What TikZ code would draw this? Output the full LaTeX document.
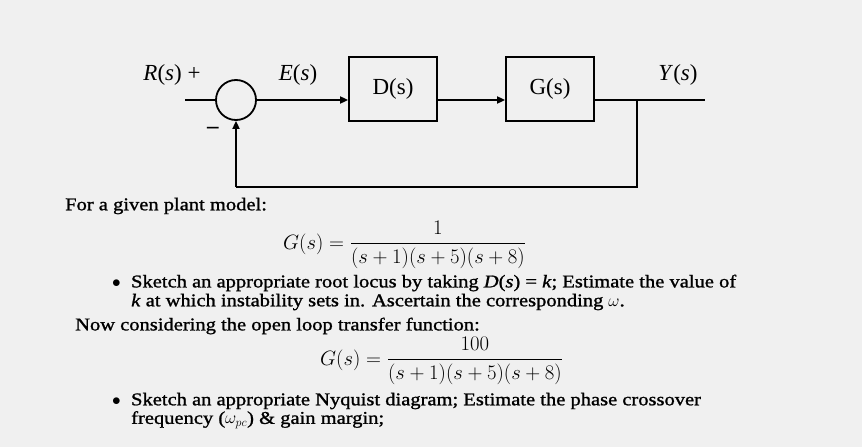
\documentclass[tikz,border=0pt]{standalone}
\usepackage{amsmath}
\usepackage{fontspec}
\setmainfont{Liberation Serif}
\newfontfamily\bodyfont[FakeStretch=1.14,FakeBold=1.2]{Liberation Serif}
\usetikzlibrary{arrows.meta}
\begin{document}
\begin{tikzpicture}[x=1pt,y=-1pt,
  blk/.style={draw,line width=1.8pt,minimum width=88pt,minimum height=64pt,font=\fontsize{23}{26}\selectfont},
  wire/.style={line width=1.8pt},
  arr/.style={wire,-{Triangle[length=8pt,width=7pt]}},
  lbl/.style={font=\fontsize{23}{26}\selectfont,inner sep=0pt},
  txt/.style={font=\fontsize{18}{20}\bodyfont,anchor=west,inner sep=0pt},
  frm/.style={font=\fontsize{20}{22}\selectfont,anchor=west,inner sep=0pt}]
\fill[gray!12] (0,0) rectangle (862,447);
\useasboundingbox (0,0) rectangle (862,447);
\node[draw,circle,line width=1.8pt,minimum size=40pt,inner sep=0pt] (sum) at (236,100) {};
\node[blk] (D) at (393,89) {D(s)};
\node[blk] (G) at (550,89) {G(s)};
\coordinate (in) at (185,100);
\coordinate (tp) at (637,100);
\coordinate (out) at (705,100);
\coordinate (fb1) at (637,187);
\coordinate (fb2) at (236,187);
\draw[wire] (in) -- (sum.west);
\draw[arr] (sum.east) -- (D.west|-sum.east);
\draw[arr] (D.east|-sum.east) -- (G.west|-sum.east);
\draw[wire] (G.east|-sum.east) -- (out);
\draw[wire] (tp) -- (fb1) -- (fb2);
\draw[arr] (fb2) -- (sum.south);
\node[lbl] (R) at (172,75) {\textit{R}(\textit{s}) +};
\node[lbl] (E) at (298,75) {\textit{E}(\textit{s})};
\node[lbl] (Y) at (678,75) {\textit{Y}(\textit{s})};
\node[lbl] (m) at (213,130) {\textbf{--}};
\node[txt] (t1) at (65,206) {For a given plant model:};
\node[frm] (f1) at (283,245) {$G(s) = \dfrac{1}{(s+1)(s+5)(s+8)}$};
\node[txt] (b1) at (112,283) {$\bullet$\ \ Sketch an appropriate root locus by taking \textit{D}(\textit{s}) = \textit{k}; Estimate the value of};
\node[txt] (b1b) at (131,302) {\textit{k} at which instability sets in. Ascertain the corresponding $\omega$.};
\node[txt] (t2) at (75,326) {Now considering the open loop transfer function:};
\node[frm] (f2) at (320,361) {$G(s) = \dfrac{100}{(s+1)(s+5)(s+8)}$};
\node[txt] (b2) at (112,401) {$\bullet$\ \ Sketch an appropriate Nyquist diagram; Estimate the phase crossover};
\node[txt] (b2b) at (131,420) {frequency ($\omega_{pc}$) \& gain margin;};
\end{tikzpicture}
\end{document}
